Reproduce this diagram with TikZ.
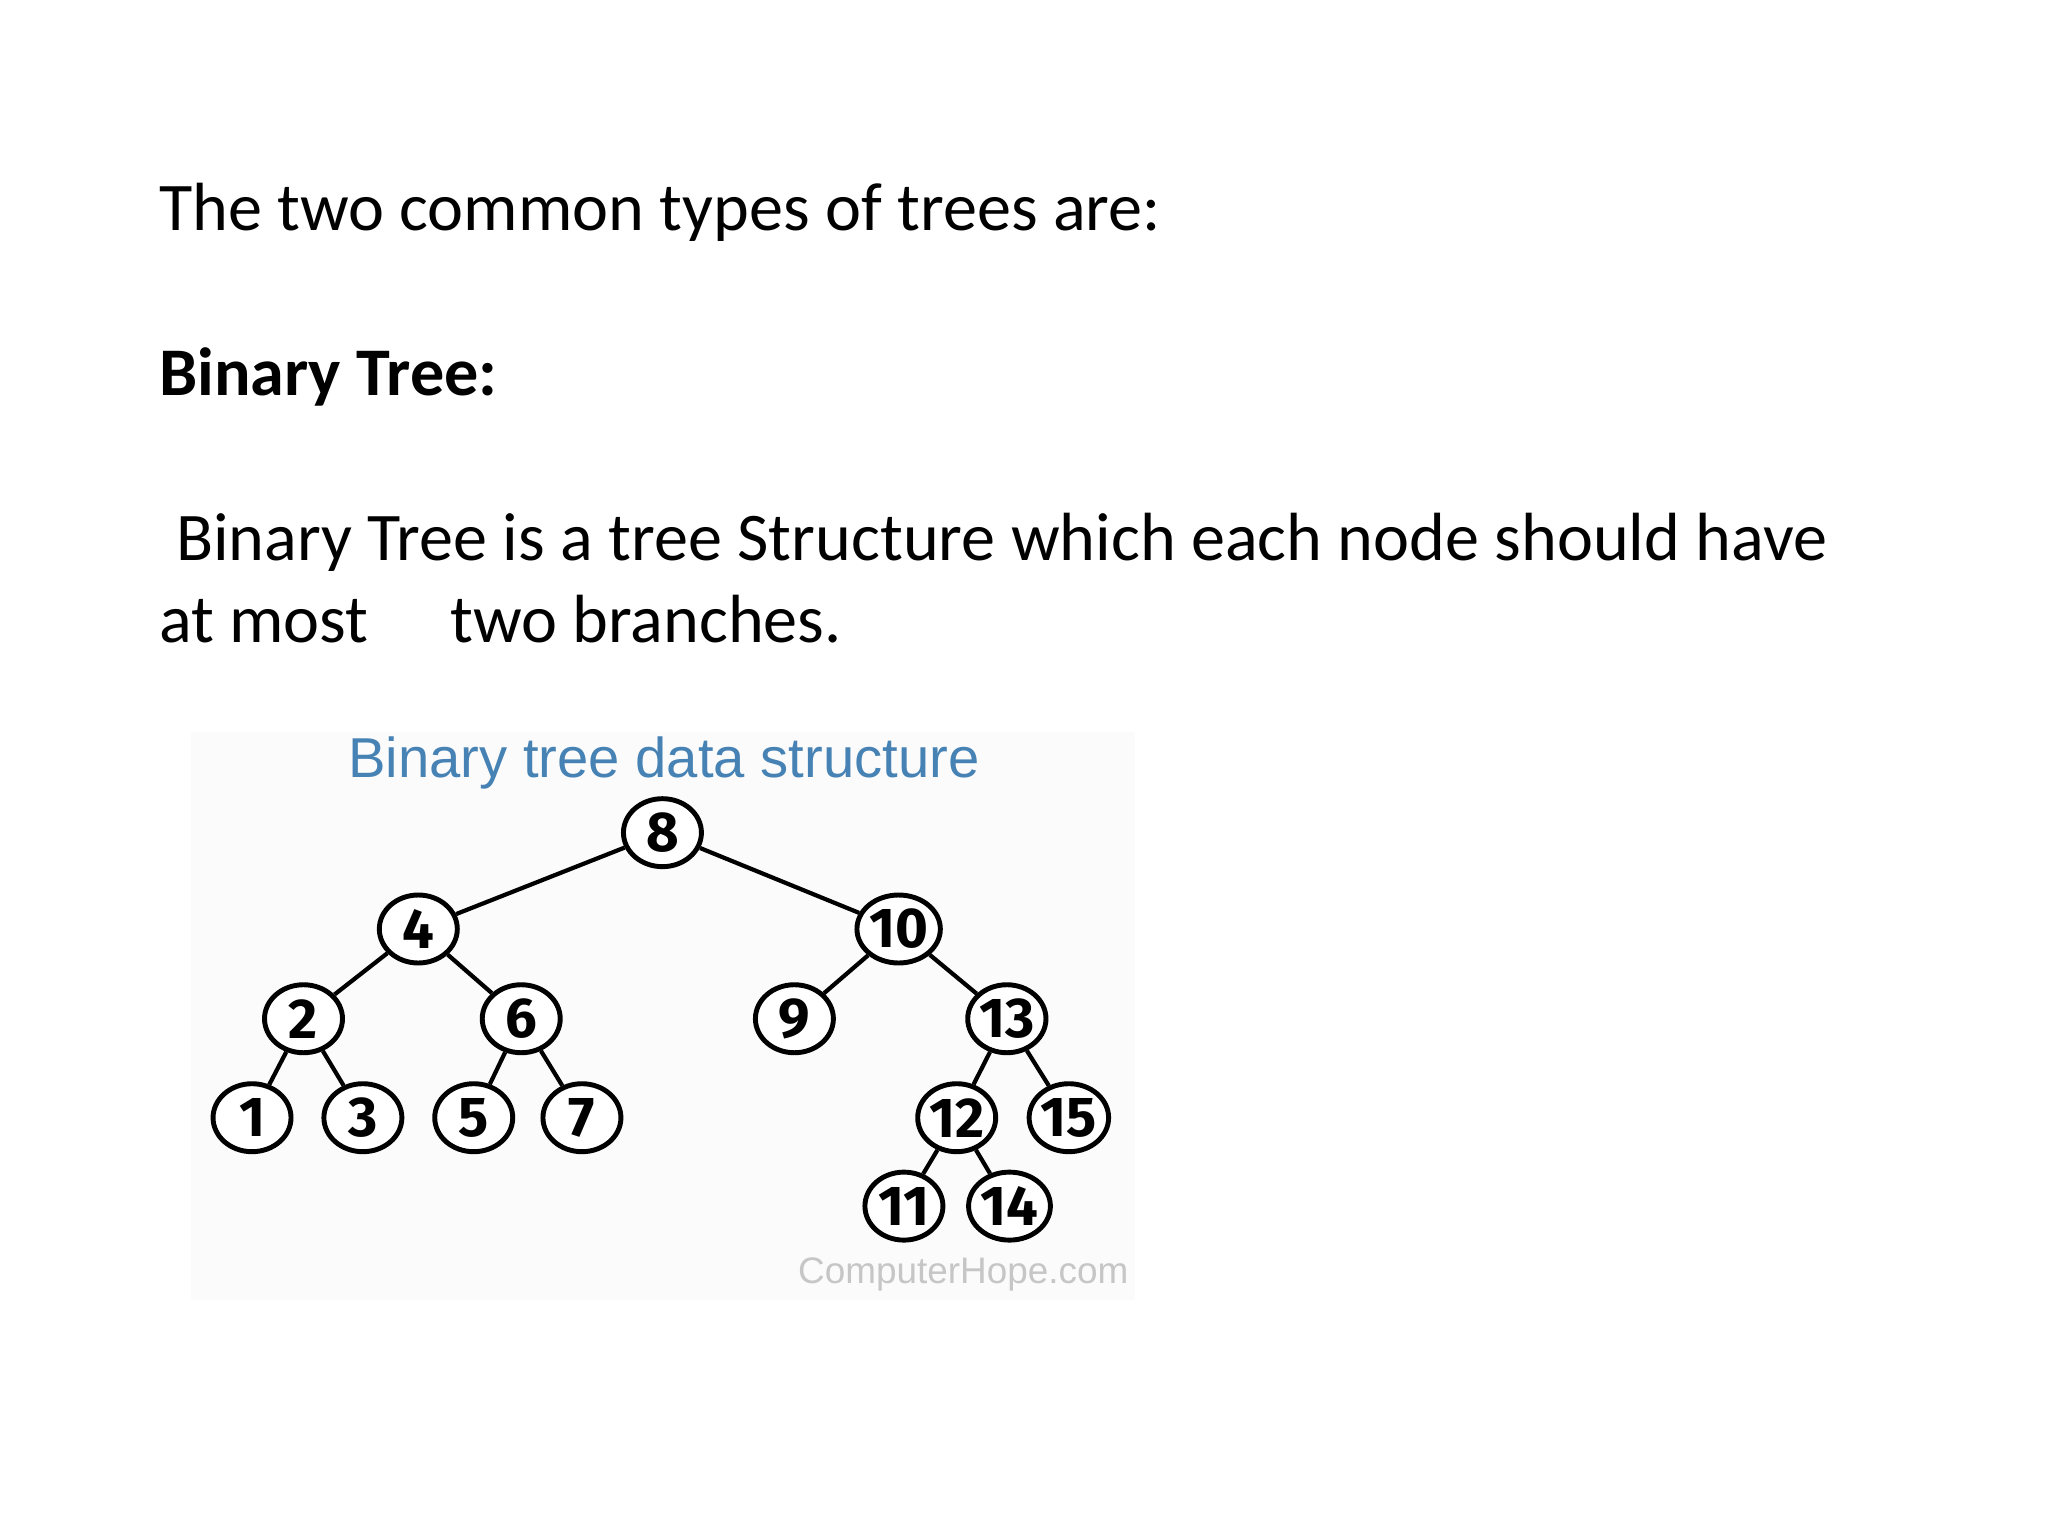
\documentclass[tikz,border=0pt]{standalone}
\usepackage{fontspec}
\setmainfont{Carlito}
\newfontfamily\arialf{Liberation Sans}
\newfontfamily\numf{Fira Sans}
\usetikzlibrary{shapes.geometric}
\definecolor{titleblue}{RGB}{70,130,180}
\tikzset{
  txt/.style={anchor=base west,font=\fontsize{19.4}{23}\selectfont,inner sep=0},
  tn/.style={ellipse,draw,line width=1.4pt,fill=white,minimum width=0.78cm,minimum height=0.68cm,inner sep=0,font=\numf\bfseries\fontsize{16}{17}\selectfont},
  ed/.style={line width=1.2pt}
}
\begin{document}
\begin{tikzpicture}[x=0.0132cm,y=-0.0132cm]
\useasboundingbox (0,0) rectangle (1552,1164);
\node[txt] (l1) at (120,175) {The two common types of trees are:};
\node[txt,font=\bfseries\fontsize{19.4}{23}\selectfont] (l2) at (120,300) {Binary Tree:};
\node[txt] (l3) at (133,425) {Binary Tree is a tree Structure which each node should have};
\node[txt] (l4) at (120,487) {at most\hspace{1.2em}two branches.};
\fill[gray!3] (145,555) rectangle (860,985);
\begin{scope}[shift={(-5,-6)}]
\node[font=\arialf\fontsize{16}{18}\selectfont,text=titleblue] (title) at (508,584) {Binary tree data structure};
\node[tn] (n8) at (507,637) {8};
\node[tn] (n4) at (322,710) {4};
\node[tn] (n10) at (686,710) {10};
\node[tn] (n2) at (235,778) {2};
\node[tn] (n6) at (400,778) {6};
\node[tn] (n9) at (607,778) {9};
\node[tn] (n13) at (768,778) {13};
\node[tn] (n1) at (196,853) {1};
\node[tn] (n3) at (280,853) {3};
\node[tn] (n5) at (364,853) {5};
\node[tn] (n7) at (446,853) {7};
\node[tn] (n12) at (730,853) {12};
\node[tn] (n15) at (815,853) {15};
\node[tn] (n11) at (690,920) {11};
\node[tn] (n14) at (770,920) {14};
\foreach \a/\b in {n8/n4,n8/n10,n4/n2,n4/n6,n10/n9,n10/n13,n2/n1,n2/n3,n6/n5,n6/n7,n13/n12,n13/n15,n12/n11,n12/n14}
  \draw[ed] (\a) -- (\b);
\node[font=\arialf\fontsize{10.5}{12}\selectfont,text=gray!45] (wm) at (735,972) {ComputerHope.com};
\end{scope}
\end{tikzpicture}
\end{document}
